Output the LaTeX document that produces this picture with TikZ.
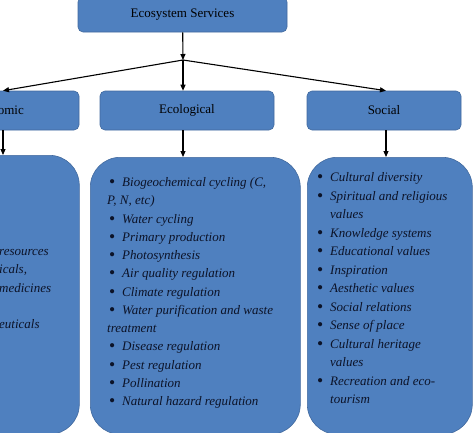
\documentclass[tikz,border=0pt]{standalone}
\usepackage{fontspec}
\setmainfont{Liberation Serif}
\usetikzlibrary{arrows.meta,positioning}
\definecolor{boxblue}{HTML}{4F80BF}
\definecolor{boxedge}{HTML}{41699E}
\definecolor{itemink}{HTML}{0C1328}
\newcommand{\bul}{\makebox[15pt][l]{\upshape\hspace{2pt}\raisebox{-1.1pt}{\scalebox{1.35}{\textbullet}}}}

\begin{document}
\begin{tikzpicture}[x=1pt, y=-1pt,
    every node/.style={font=\fontsize{13}{18.5}\selectfont},
    headbox/.style={draw=boxedge, fill=boxblue, line width=0.6pt, rounded corners=5pt,
      minimum height=39pt, inner sep=0pt},
    listbox/.style={draw=boxedge, fill=boxblue, line width=0.6pt, rounded corners=30pt,
      anchor=north west, inner sep=0pt},
    item/.style={anchor=base west, inner sep=0pt, text=itemink,
      font=\fontsize{13}{18.5}\selectfont\itshape},
    arr/.style={-{Triangle[length=6pt,width=5pt]}, line width=1.1pt}]
  \useasboundingbox (0,0) rectangle (474,432);

  % top level and the three kinds of services
  \node[headbox, minimum width=209pt, minimum height=35pt] (es) at (182.5,14.5) {Ecosystem Services};
  \coordinate (fork) at (183,60);

  \node[headbox, minimum width=152pt] (econ) at (3,110.5) {Economic\kern11pt};
  \node[headbox, minimum width=174pt] (ecol) at (187,110.5) {Ecological};
  \node[headbox, minimum width=154pt] (soc) at (384,110.5) {Social};

  \draw[arr] (es) -- (fork);
  \draw[arr] (fork) -- (econ.north);
  \draw[arr] (fork) -- (fork |- ecol.north);
  \draw[arr] (fork) -- ([xshift=2pt]soc.north);

  % lists
  \node[listbox, minimum width=180pt, minimum height=279pt] (econList) at (-101,155) {};
  \node[listbox, minimum width=210pt, minimum height=277pt] (ecolList) at (90,157) {};
  \node[listbox, minimum width=165pt, minimum height=277pt] (socList) at (307,157) {};

  \draw[arr] (econ.south) -- (econList.north -| econ.south);
  \draw[arr] (ecol.south -| fork) -- (ecolList.north -| fork);
  \draw[arr] ([xshift=2pt]soc.south) -- ([xshift=2pt]soc.south |- socList.north);

  \node[item] (econ-1) at (-1,255) {resources};
  \node[item] (econ-2) at (-1,273.5) {icals,};
  \node[item] (econ-3) at (-1,292) {medicines};
  \node[item] (econ-4) at (-1,328.5) {euticals};

  \foreach \txt [count=\i] in {{\bul Biogeochemical cycling (C,}, {P, N, etc)},
      {\bul Water cycling}, {\bul Primary production}, {\bul Photosynthesis},
      {\bul Air quality regulation}, {\bul Climate regulation},
      {\bul Water purification and waste}, {treatment}, {\bul Disease regulation},
      {\bul Pest regulation}, {\bul Pollination}, {\bul Natural hazard regulation}}
    \node[item] (ecol-\i) at (107,{186.5+18.25*(\i-1)}) {\txt};

  \foreach \txt [count=\i] in {{\bul Cultural diversity}, {\bul Spiritual and religious},
      {\hspace*{15pt}values}, {\bul Knowledge systems}, {\bul Educational values},
      {\bul Inspiration}, {\bul Aesthetic values}, {\bul Social relations},
      {\bul Sense of place}, {\bul Cultural heritage}, {\hspace*{15pt}values},
      {\bul Recreation and eco-}, {\hspace*{15pt}tourism}}
    \node[item] (soc-\i) at (315,{181.5+18.5*(\i-1)}) {\txt};
\end{tikzpicture}
\end{document}
